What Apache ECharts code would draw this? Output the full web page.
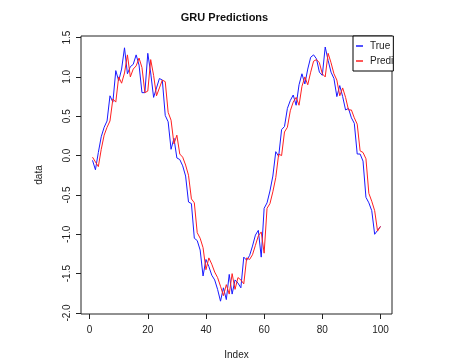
<!DOCTYPE html>
<html>
<head>
<meta charset="utf-8">
<script src="https://cdn.jsdelivr.net/npm/echarts@6/dist/echarts.min.js"></script>
<style>
html,body{margin:0;padding:0;background:#fff;}
#chart{width:449px;height:362px;}
</style>
</head>
<body>
<div id="chart"></div>
<script>
var trueValues = [
 -0.06,-0.18,0.04,0.24,0.36,0.44,0.76,0.68,1.08,0.95,
 1.10,1.37,1.04,1.13,1.16,1.28,1.15,0.80,0.80,1.30,
 1.05,0.74,0.86,0.98,0.96,0.51,0.43,0.08,0.22,-0.03,
 -0.05,-0.13,-0.26,-0.59,-0.61,-1.05,-1.08,-1.20,-1.53,-1.32,
 -1.41,-1.52,-1.58,-1.70,-1.85,-1.68,-1.83,-1.51,-1.76,-1.58,
 -1.62,-1.68,-1.29,-1.33,-1.27,-1.15,-1.01,-0.95,-1.29,-0.67,
 -0.60,-0.45,-0.26,0.05,-0.01,0.33,0.37,0.60,0.70,0.77,
 0.64,0.90,1.04,0.91,1.10,1.25,1.28,1.23,1.06,1.02,
 1.38,1.21,1.06,0.98,0.75,0.89,0.75,0.58,0.60,0.48,
 0.41,0.02,0.02,-0.07,-0.53,-0.60,-0.70,-1.00,-0.95,-0.90
];
var predValues = [
 -0.02,-0.08,-0.14,0.08,0.26,0.36,0.44,0.72,0.68,1.00,
 0.92,1.05,1.28,1.00,1.10,1.14,1.24,1.12,0.80,0.82,
 1.22,1.02,0.76,0.86,0.96,0.94,0.55,0.45,0.15,0.26,
 0.02,-0.02,-0.12,-0.25,-0.55,-0.60,-0.98,-1.05,-1.17,-1.45,
 -1.30,-1.38,-1.48,-1.55,-1.66,-1.78,-1.64,-1.76,-1.50,-1.70,
 -1.55,-1.58,-1.63,-1.30,-1.32,-1.26,-1.14,-1.02,-0.97,-1.24,
 -0.67,-0.61,-0.46,-0.28,0.02,0.00,0.30,0.36,0.57,0.68,
 0.74,0.64,0.88,1.00,0.90,1.06,1.20,1.22,1.18,1.04,
 1.00,1.30,1.18,1.04,0.96,0.76,0.86,0.74,0.58,0.58,
 0.48,0.40,0.06,0.04,-0.04,-0.48,-0.58,-0.70,-0.96,-0.90
];
var xTicks = [0, 20, 40, 60, 80, 100];
var yTicks = [-2.0, -1.5, -1.0, -0.5, 0.0, 0.5, 1.0, 1.5];
var seriesNames = ['True', 'Predicted'];

function pairs(vals) {
  return vals.map(function (v, i) { return [i + 1, v]; });
}

var font = 'Liberation Sans, Arial, Helvetica, sans-serif';
var chart = echarts.init(document.getElementById('chart'), null, {renderer: 'canvas'});
chart.setOption({
  animation: false,
  backgroundColor: '#fff',
  title: {
    text: 'GRU Predictions',
    left: 'center',
    top: 7,
    textStyle: {fontFamily: font, fontSize: 11, fontWeight: 'bold', color: '#111'}
  },
  legend: {
    orient: 'vertical',
    left: 353,
    top: 36,
    padding: [5, 0, 5, 3],
    itemGap: 5,
    itemWidth: 7,
    itemHeight: 1.5,
    icon: 'rect',
    backgroundColor: '#fff',
    borderColor: '#000',
    borderWidth: 1,
    borderRadius: 0,
    data: seriesNames,
    textStyle: {fontFamily: font, fontSize: 10, color: '#222', width: 25, overflow: 'truncate', ellipsis: '', padding: [0,0,0,2]}
  },
  grid: {
    left: 81, right: 57, top: 36, bottom: 48,
    outerBoundsMode: 'none',
    containLabel: false,
    show: true, borderColor: '#222', borderWidth: 1, backgroundColor: 'transparent'
  },
  xAxis: {
    type: 'value',
    min: -2.96, max: 103.96,
    name: 'Index',
    nameLocation: 'middle',
    nameGap: 36,
    nameTextStyle: {fontFamily: font, fontSize: 10, color: '#222'},
    axisLine: {show: false, onZero: false},
    axisTick: {show: true, length: 5, inside: false, customValues: xTicks, lineStyle: {color: '#222'}},
    axisLabel: {customValues: xTicks, margin: 11, fontFamily: font, fontSize: 10, color: '#222'},
    splitLine: {show: false}
  },
  yAxis: {
    type: 'value',
    min: -2.013, max: 1.52,
    name: 'data',
    nameLocation: 'middle',
    nameRotate: 90,
    nameGap: 37,
    nameTextStyle: {fontFamily: font, fontSize: 10, color: '#222'},
    axisLine: {show: false, onZero: false},
    axisTick: {show: true, length: 5, inside: false, customValues: yTicks, lineStyle: {color: '#222'}},
    axisLabel: {customValues: yTicks, rotate: 90, margin: 9, fontFamily: font, fontSize: 10, color: '#222',
      formatter: function (v) { return v.toFixed(1); }},
    splitLine: {show: false}
  },
  series: [
    {name: seriesNames[0], type: 'line', data: pairs(trueValues), symbol: 'none',
     lineStyle: {color: '#1a1aff', width: 1}, itemStyle: {color: '#1a1aff'}},
    {name: seriesNames[1], type: 'line', data: pairs(predValues), symbol: 'none',
     lineStyle: {color: '#ff2020', width: 1}, itemStyle: {color: '#ff2020'}}
  ]
});
</script>
</body>
</html>
